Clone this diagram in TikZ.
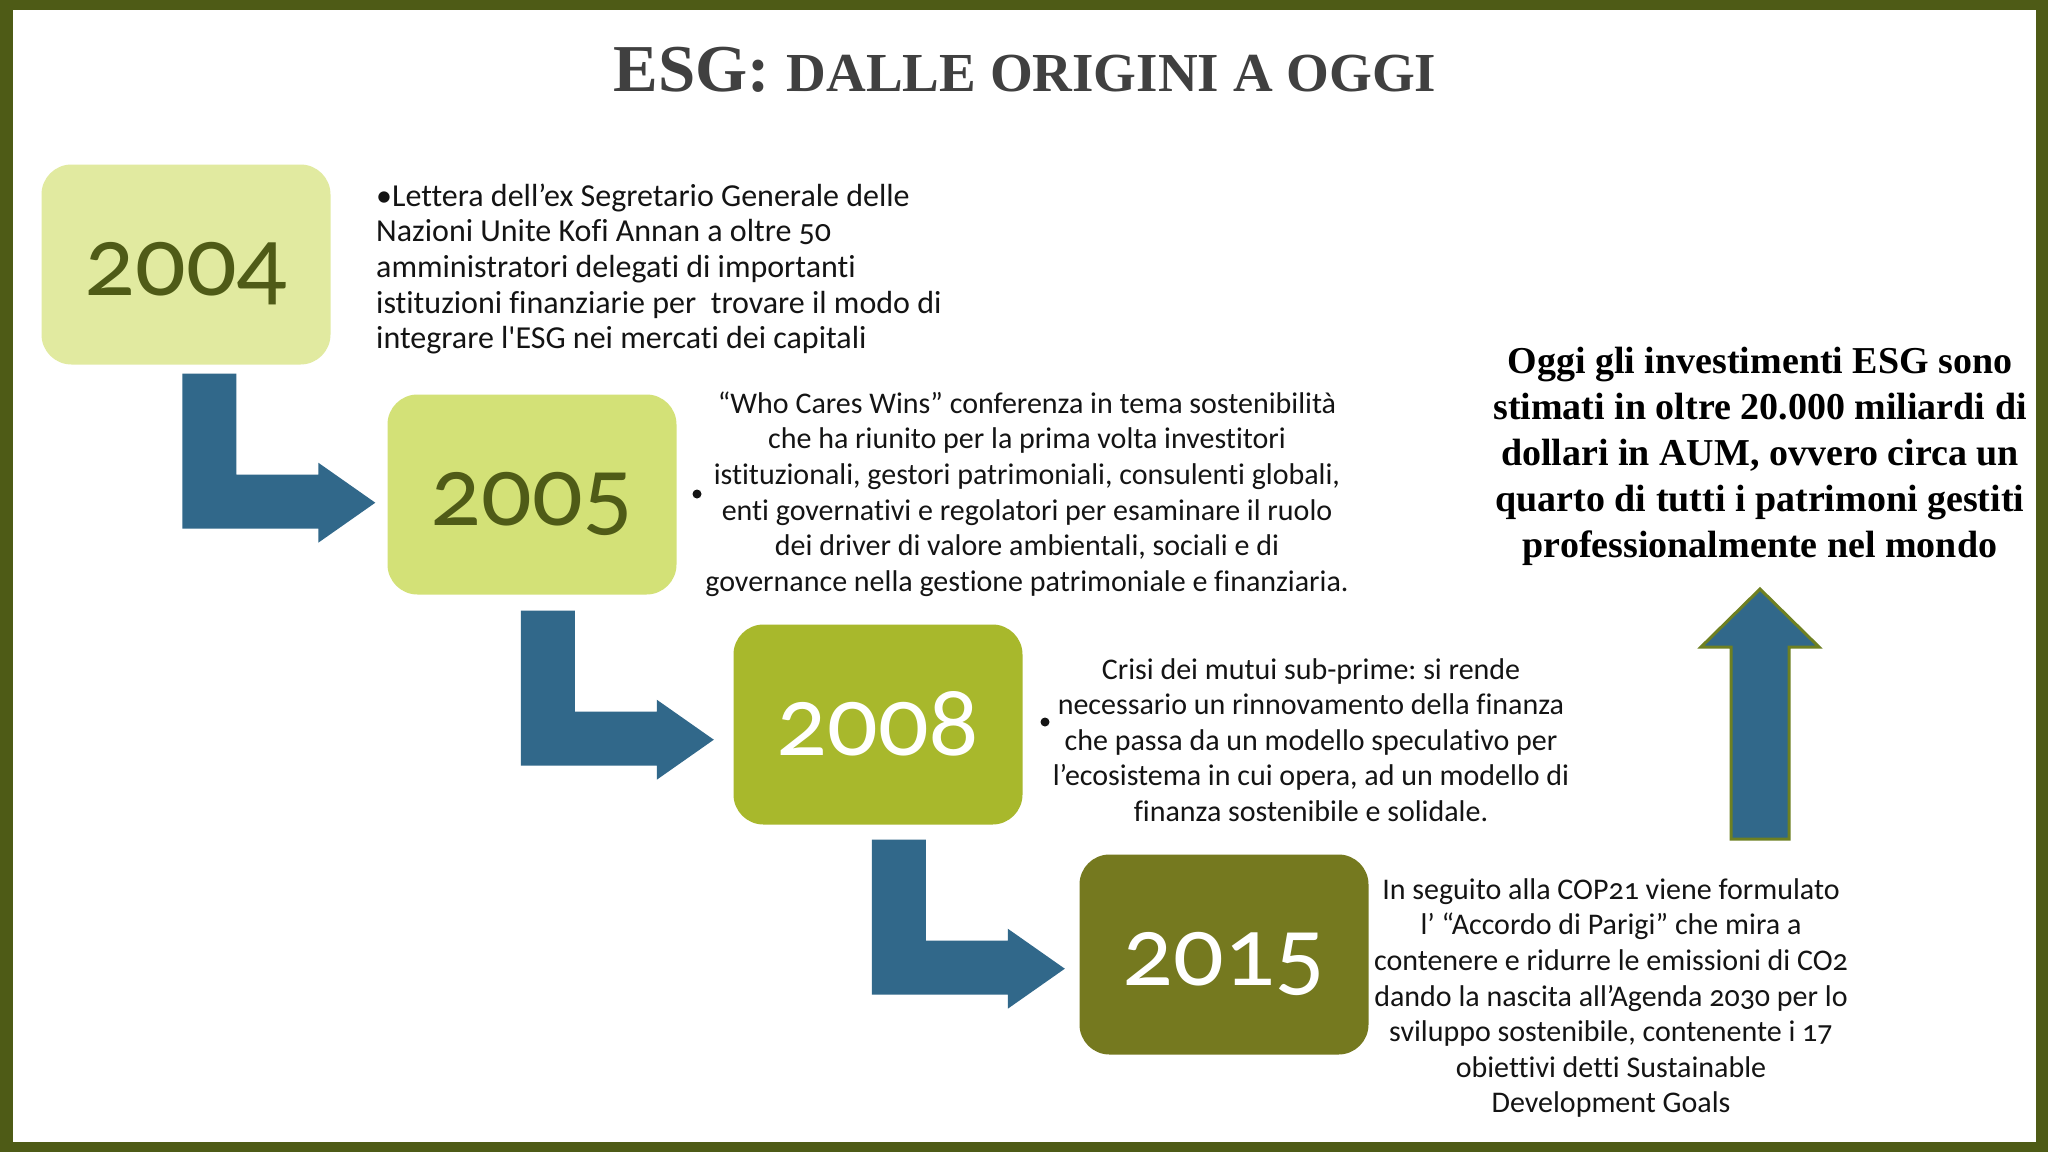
\documentclass[tikz,border=0pt]{standalone}
\usepackage{fontspec}
\setmainfont{Carlito}[Numbers=OldStyle, Ligatures={NoCommon,TeXOff}]
\newfontfamily\serifb{Liberation Serif}
\frenchspacing
\definecolor{framecol}{HTML}{4E5B16}
\definecolor{titlegray}{HTML}{404040}
\definecolor{c2004}{HTML}{E1EAA0}
\definecolor{c2005}{HTML}{D3E177}
\definecolor{c2008}{HTML}{A8B82C}
\definecolor{c2015}{HTML}{75791F}
\definecolor{yeardark}{HTML}{4F5B17}
\definecolor{arrowblue}{HTML}{31688A}
\definecolor{arrowedge}{HTML}{6E8022}
\definecolor{bodyink}{HTML}{141414}
\begin{document}
\begin{tikzpicture}[x=1pt,y=-1pt,
  yearbox/.style={rounded corners=30pt, minimum width=289pt, minimum height=200pt,
    inner sep=0pt, text height=61pt, text depth=0pt,
    font=\fontsize{100}{100}\selectfont},
  bodytext/.style={font=\fontsize{30}{35.6}\selectfont, inner sep=0pt, text=bodyink},
  bulletdot/.style={circle, fill=bodyink, inner sep=0pt, minimum size=9pt},
  bendarrow/.style={fill=arrowblue}]
\useasboundingbox (0,0) rectangle (2048,1152);
\fill[framecol] (0,0) rectangle (2048,1152);
\fill[white] (13,10) rectangle (2036,1142);

% title
\node[anchor=base, text=titlegray, inner sep=0pt] (title) at (1025,91)
  {\serifb\bfseries\fontsize{67}{67}\selectfont ESG: \fontsize{55}{55}\selectfont DALLE ORIGINI A OGGI};

% year boxes
\node[yearbox, fill=c2004, text=yeardark] (y2004) at (186,264.5) {2004};
\node[yearbox, fill=c2005, text=yeardark] (y2005) at (532,494.5) {2005};
\node[yearbox, fill=c2008, text=white] (y2008) at (878,724.5) {2008};
\node[yearbox, fill=c2015, text=white] (y2015) at (1224,954.5) {2015};

% bent arrows (from each box down and right towards the next)
\foreach \a/\dx/\dy in {y2004/0/0, y2005/-7.5/7, y2008/-2.5/6}{
  \fill[bendarrow, shift={(\a.south west)}, shift={(\dx,\dy)}]
    (141,9) -- (195,9) -- (195,110) -- (277,110)
    -- (277,98) -- (334,138) -- (277,178) -- (277,164) -- (141,164) -- cycle;
}

% texts
\node[bodytext, anchor=west, align=left, font=\fontsize{32}{35.6}\selectfont] (t2004) at (376,269)
  {•Lettera dell’ex Segretario Generale delle\\
   Nazioni Unite Kofi Annan a oltre 50\\
   amministratori delegati di importanti\\
   istituzioni finanziarie per \ trovare il modo di\\
   integrare l'ESG nei mercati dei capitali};

\node[bulletdot] (b2005) at (697,494) {};
\node[bodytext, align=center] (t2005) at (1027,494)
  {“Who Cares Wins” conferenza in tema sostenibilità\\
   che ha riunito per la prima volta investitori\\
   istituzionali, gestori patrimoniali, consulenti globali,\\
   enti governativi e regolatori per esaminare il ruolo\\
   dei driver di valore ambientali, sociali e di\\
   governance nella gestione patrimoniale e finanziaria.};

\node[bulletdot] (b2008) at (1045,722) {};
\node[bodytext, align=center] (t2008) at (1311,740)
  {Crisi dei mutui sub-prime: si rende\\
   necessario un rinnovamento della finanza\\
   che passa da un modello speculativo per\\
   l’ecosistema in cui opera, ad un modello di\\
   finanza sostenibile e solidale.};

\node[bodytext, align=center] (t2015) at (1611,998)
  {In seguito alla COP21 viene formulato\\
   l’ “Accordo di Parigi” che mira a\\
   contenere e ridurre le emissioni di CO2\\
   dando la nascita all’Agenda 2030 per lo\\
   sviluppo sostenibile, contenente i 17\\
   obiettivi detti Sustainable\\
   Development Goals};

% right statement
\node[align=center, inner sep=0pt, text=black,
  font=\serifb\bfseries\fontsize{38}{46}\selectfont] (oggi) at (1760,456)
  {Oggi gli investimenti ESG sono\\
   stimati in oltre 20.000 miliardi di\\
   dollari in AUM, ovvero circa un\\
   quarto di tutti i patrimoni gestiti\\
   professionalmente nel mondo};

% up arrow
\draw[fill=arrowblue, draw=arrowedge, line width=3pt, line join=miter]
  (1760,589) -- (1819,647) -- (1789,647) -- (1789,839) -- (1731,839)
  -- (1731,647) -- (1701,647) -- cycle;
\end{tikzpicture}
\end{document}
